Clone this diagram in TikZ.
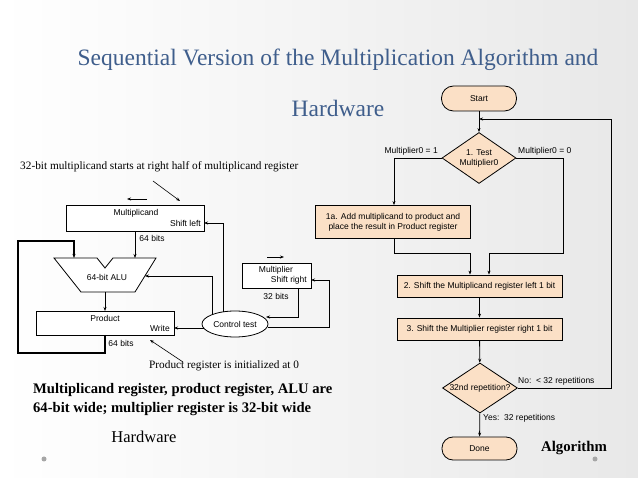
\documentclass[tikz,border=0pt]{standalone}
\usepackage{fontspec}
\setmainfont{Liberation Serif}
\newfontfamily\sansf{Liberation Sans}
\usetikzlibrary{shapes.geometric,arrows.meta}
\definecolor{titleblue}{HTML}{3F5E8C}
\definecolor{peach}{HTML}{FBE0C6}
\begin{document}
\begin{tikzpicture}[x=1pt,y=-1pt,
  lbl/.style={font=\sansf\fontsize{8.5}{10}\selectfont,inner sep=0pt},
  reg/.style={draw,thick,fill=white},
  fc/.style={draw,thick,fill=peach,font=\sansf\fontsize{8.5}{10}\selectfont,align=center},
  ar/.style={-{Stealth[length=4pt,width=3pt]},thick},
  ln/.style={thick},
  note/.style={font=\fontsize{11.3}{13}\selectfont,inner sep=0pt}]
\shade[left color=white,right color=gray!18] (0,0) rectangle (638,478);
\useasboundingbox (0,0) rectangle (638,478);
% titles
\node[text=titleblue,font=\fontsize{23.5}{27}\selectfont] (t1) at (338,60) {Sequential Version of the Multiplication Algorithm and};
\node[text=titleblue,font=\fontsize{23.5}{27}\selectfont] (t2) at (338,108) {Hardware};
\node[note,anchor=west] (n1) at (20,167) {32-bit multiplicand starts at right half of multiplicand register};
\coordinate (n1a) at (153,181); \coordinate (n1b) at (180,201);
\draw[ar,semithick] (n1a) -- (n1b);
% multiplicand
\node[reg,minimum width=138pt,minimum height=26pt] (mc) at (135,218.5) {};
\node[lbl] (mct) at (136,213) {Multiplicand};
\node[lbl,anchor=east] (mcs) at (201,223) {Shift left};
\coordinate (sl1) at (147,199); \coordinate (sl2) at (127,199);
\draw[ar] (sl1) -- (sl2);
\node[lbl] (b64a) at (152,238) {64 bits};
% ALU
\coordinate (a1) at (54,258); \coordinate (a2) at (97,258); \coordinate (a3) at (105,268);
\coordinate (a4) at (113,258); \coordinate (a5) at (156,258); \coordinate (a6) at (135,292); \coordinate (a7) at (81,292);
\draw[thick,fill=white] (a1) -- (a2) -- (a3) -- (a4) -- (a5) -- (a6) -- (a7) -- cycle;
\node[lbl] (alu) at (107,277) {64-bit ALU};
\coordinate (mcb) at (135,231.5); \coordinate (alt) at (135,258);
\draw[ar] (mcb) -- (alt);
% product
\node[reg,minimum width=138pt,minimum height=24pt] (pr) at (105,323) {};
\node[lbl] (prt) at (105,318) {Product};
\node[lbl,anchor=east] (prw) at (170,328) {Write};
\node[lbl] (b64b) at (121,343) {64 bits};
\coordinate (alb) at (105,292); \coordinate (prt2) at (105,311);
\draw[ar] (alb) -- (prt2);
\coordinate (f1) at (105,335); \coordinate (f5) at (74,258);
\draw[ar,line width=1.6pt] (f1) -- (105,353) -- (18,353) -- (18,241) -- (74,241) -- (f5);
\node[note,anchor=west] (n2) at (149,366) {Product register is initialized at 0};
\coordinate (n2a) at (183,362); \coordinate (n2b) at (150,340);
\draw[ar,semithick] (n2a) -- (n2b);
% control
\node[ellipse,draw,thick,fill=white,minimum width=66pt,minimum height=26pt,lbl,inner sep=0pt] (ct) at (235,324) {Control test};
\coordinate (prr) at (174,328);
\draw[ar] (ct.west |- prr) ++(2,0) -- (prr);
\coordinate (mcr) at (204,223);
\draw[ar] (223,312) -- (223,223) -- (mcr);
\coordinate (alr) at (145,276);
\draw[ar] (212,314) -- (212,276) -- (alr);
% multiplier
\node[reg,minimum width=69pt,minimum height=25pt] (mp) at (276.5,275.5) {};
\node[lbl] (mpt) at (276,270) {Multiplier};
\node[lbl,anchor=east] (mps) at (307,280) {Shift right};
\coordinate (sr1) at (267,257); \coordinate (sr2) at (284,257);
\draw[ar] (sr1) -- (sr2);
\node[lbl] (b32) at (276,296) {32 bits};
\coordinate (mpb) at (298,288); \coordinate (cte) at (266,317);
\draw[ar] (mpb) -- (298,317) -- (cte);
\coordinate (mpr) at (311,280);
\draw[ar] (268,327) -- (329,327) -- (329,280) -- (mpr);
% bottom text
\node[font=\bfseries\fontsize{14.6}{17}\selectfont,anchor=west,inner sep=0pt] (bt1) at (33,390) {Multiplicand register, product register, ALU are};
\node[font=\bfseries\fontsize{14.6}{17}\selectfont,anchor=west,inner sep=0pt] (bt2) at (33,409) {64-bit wide; multiplier register is 32-bit wide};
\node[font=\fontsize{16.5}{19}\selectfont] (hw) at (144,437) {Hardware};
\node[font=\bfseries\fontsize{14.8}{17}\selectfont] (alg) at (574,448) {Algorithm};
\fill[gray!70] (44,459) circle (2.5);
\fill[gray!70] (595,459) circle (2.5);
% flowchart
\node[fc,rounded corners=12pt,minimum width=75pt,minimum height=25pt] (st) at (479,98.5) {Start};
\node[fc,diamond,aspect=1.45,minimum width=74pt,minimum height=51pt,inner sep=0pt] (d1) at (479,158) {1. Test\\Multiplier0};
\draw[ar] (st) -- (d1);
\node[fc,minimum width=155pt,minimum height=33pt,inner sep=1pt] (b1) at (393,222) {1a. Add multiplicand to product and\\place the result in Product register};
\node[fc,minimum width=165pt,minimum height=22pt] (b2) at (479.5,286) {2. Shift the Multiplicand register left 1 bit};
\node[fc,minimum width=165pt,minimum height=22pt] (b3) at (479.5,329) {3. Shift the Multiplier register right 1 bit};
\node[fc,diamond,aspect=1.5,minimum width=75pt,minimum height=50pt,inner sep=0pt] (d2) at (480,388) {32nd repetition?};
\node[fc,rounded corners=11pt,minimum width=75pt,minimum height=23pt] (dn) at (479.5,448.5) {Done};
\draw[ar] (d1.west) -- (394,158) -- (b1.north -| 394,0);
\node[lbl,anchor=east] (m1) at (438,151) {Multiplier0 = 1};
\node[lbl,anchor=west] (m0) at (518,151) {Multiplier0 = 0};
\draw[ar] (d1.east) -- (563,158) -- (563,253) -- (489,253) -- (b2.north -| 489,0);
\draw[ar] (b1.south -| 394,0) -- (394,253) -- (470,253) -- (b2.north -| 470,0);
\draw[ar] (b2) -- (b3);
\draw[ar] (b3) -- (d2);
\draw[ar] (d2) -- (dn);
\coordinate (lp) at (479,119);
\draw[ar] (d2.east) -- (611,388) -- (611,119) -- (lp);
\node[lbl,anchor=west] (no) at (518,381) {No:\ \ < 32 repetitions};
\node[lbl,anchor=west] (yes) at (483,418) {Yes:\ \ 32 repetitions};
\end{tikzpicture}
\end{document}
